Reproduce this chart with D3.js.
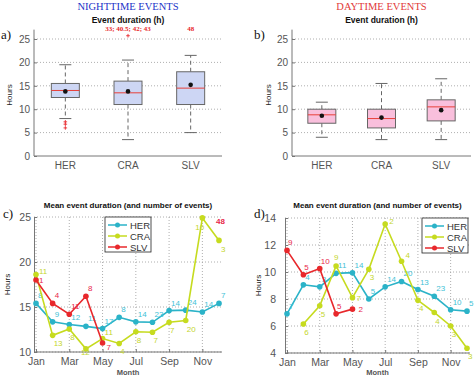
<!DOCTYPE html>
<html>
<head>
<meta charset="utf-8">
<script src="https://cdnjs.cloudflare.com/ajax/libs/d3/7.8.5/d3.min.js"></script>
<style>
  body { margin: 0; background: #fff; }
  svg { display: block; font-family: Arial, "Liberation Sans", sans-serif; }
</style>
</head>
<body>
<div id="chart"></div>
<script>
// ---- box plot data (hours) ----
var sites = ["HER", "CRA", "SLV"];

var nightQ1 = [12.5, 11, 11];
var nightMed = [14, 13.5, 14.5];
var nightQ3 = [15.5, 16, 18];
var nightMean = [13.8, 13.8, 15.2];
var nightLo = [8, 3.5, 5];
var nightHi = [19.5, 20.5, 21.5];
var nightOut = [[7.3, 6.8, 6], [25.7], []];
var nightOffText = ["", "33; 40.5; 42; 43", "48"];

var dayQ1 = [7, 6, 7.5];
var dayMed = [8.8, 8, 10.5];
var dayQ3 = [10, 10, 12];
var dayMean = [8.6, 8.2, 9.8];
var dayLo = [4, 3.5, 3.5];
var dayHi = [11.5, 15.5, 16.5];
var dayOut = [[], [], []];
var dayOffText = ["", "", ""];

var boxTicks = [0, 5, 10, 15, 20, 25];

// ---- monthly means ----
var months = ["Jan", "Feb", "Mar", "Apr", "May", "Jun", "Jul", "Aug", "Sep", "Oct", "Nov", "Dec"];
var monthTicks = ["Jan", "Mar", "May", "Jul", "Sep", "Nov"];

var herNight = [15.4, 13.35, 13.05, 12.85, 12.6, 13.85, 13.35, 13.3, 14.6, 14.65, 14.45, 15.4];
var herNightN = [8, 9, 12, 11, 17, 8, 14, 23, 14, 24, 14, 7];
var craNight = [18.6, 11.85, 12.55, 10.35, 11.5, 10.95, 12.25, 12.2, 13.3, 13.5, 24.9, 22.4];
var craNightN = [11, 13, 8, 12, 11, 4, 8, 7, 7, 20, 10, 3];
var slvNight = [18.0, 15.4, 14.2, 16.2, 11.0, null, null, null, null, null, null, null];
var slvNightN = [1, 4, 11, 8, 7, null, null, null, null, null, null, null];

var herDay = [6.9, 9.05, 8.9, 9.9, 9.95, 8.0, 8.9, 9.3, 8.7, 8.2, 7.2, 7.1];
var herDayN = [7, 4, 3, 11, 14, 5, 14, 20, 13, 23, 10, 5];
var craDay = [null, 6.15, 7.5, 10.45, 8.1, 10.2, 13.55, 10.8, 7.9, 7.0, 6.0, 4.35];
var craDayN = [null, 6, 5, 9, 7, 3, 2, 4, 4, 4, 3, 3];
var slvDay = [11.6, 9.8, 10.25, 6.9, 7.25, null, null, null, null, null, null, null];
var slvDayN = [9, 5, 10, 5, 2, null, null, null, null, null, null, null];

var colHER = "#2bb3c8", colCRA = "#c6db1f", colSLV = "#e8282c";
var txtHER = "#3fc2d6", txtCRA = "#c4d62c", txtSLV = "#e8284a";

var svg = d3.select("#chart").append("svg")
  .attr("width", 474)
  .attr("height", 377);

function gridLine(sel) {
  sel.attr("stroke", "#9a9a9a").attr("stroke-width", 0.8).attr("stroke-dasharray", "1,2");
}

// ---------- box plot panel ----------
function boxPanel(opt) {
  var x = d3.scalePoint().domain(sites).range([opt.left, opt.right]).padding(0.5);
  var y = d3.scaleLinear().domain([0, 25]).range([156, 39]);
  var g = svg.append("g");

  // grid
  g.selectAll(".grid").data(boxTicks.slice(1)).enter().append("line")
    .attr("x1", opt.left).attr("x2", opt.right)
    .attr("y1", function (d) { return y(d); }).attr("y2", function (d) { return y(d); })
    .call(gridLine);

  var ax = g.append("g").attr("transform", "translate(" + opt.left + ",0)")
    .call(d3.axisLeft(y).tickValues(boxTicks).tickSize(-3).tickPadding(4));
  ax.select(".domain").attr("d", "M0," + y(27) + "V" + y(0)).attr("stroke", "#777");
  ax.selectAll(".tick line").attr("stroke", "#777");
  ax.selectAll("text").attr("font-size", 10).attr("fill", "#555").attr("font-family", "Arial, sans-serif");

  g.append("line").attr("x1", opt.left).attr("x2", opt.right)
    .attr("y1", y(0)).attr("y2", y(0)).attr("stroke", "#777");

  g.selectAll(".xl").data(sites).enter().append("text")
    .attr("x", function (d) { return x(d); }).attr("y", 169)
    .attr("text-anchor", "middle").attr("font-size", 10).attr("fill", "#555")
    .text(function (d) { return d; });

  var w = 28;
  sites.forEach(function (s, i) {
    var cx = x(s);
    // whiskers
    [[opt.q3[i], opt.hi[i]], [opt.q1[i], opt.lo[i]]].forEach(function (p) {
      g.append("line").attr("x1", cx).attr("x2", cx)
        .attr("y1", y(p[0])).attr("y2", y(p[1]))
        .attr("stroke", "#666").attr("stroke-width", 1).attr("stroke-dasharray", "4,3");
      g.append("line").attr("x1", cx - 6).attr("x2", cx + 6)
        .attr("y1", y(p[1])).attr("y2", y(p[1]))
        .attr("stroke", "#666").attr("stroke-width", 1);
    });
    g.append("rect").attr("x", cx - w / 2).attr("width", w)
      .attr("y", y(opt.q3[i])).attr("height", y(opt.q1[i]) - y(opt.q3[i]))
      .attr("fill", opt.fill).attr("stroke", "#666").attr("stroke-width", 1);
    g.append("line").attr("x1", cx - w / 2).attr("x2", cx + w / 2)
      .attr("y1", y(opt.med[i])).attr("y2", y(opt.med[i]))
      .attr("stroke", "#e8403a").attr("stroke-width", 1);
    g.append("circle").attr("cx", cx).attr("cy", y(opt.mean[i])).attr("r", 2.3).attr("fill", "#111");
    // outliers as small red "+" marks
    opt.out[i].forEach(function (v) {
      g.append("path")
        .attr("d", "M" + (cx - 1.8) + "," + y(v) + "h3.6M" + cx + "," + (y(v) - 1.8) + "v3.6")
        .attr("stroke", "#e8282c").attr("stroke-width", 0.9).attr("fill", "none");
    });
    if (opt.offText[i]) {
      g.append("text").attr("x", cx).attr("y", 31)
        .attr("text-anchor", "middle").attr("font-size", 7)
        .attr("font-family", "'Liberation Serif', serif").attr("font-weight", "bold")
        .attr("fill", "#e8282c").text(opt.offText[i]);
    }
  });

  var mid = (opt.left + opt.right) / 2;
  svg.append("text").attr("x", mid).attr("y", 10).attr("text-anchor", "middle")
    .attr("font-family", "'Liberation Serif', 'Times New Roman', serif").attr("font-size", 10.5)
    .attr("fill", opt.headColor).text(opt.head);
  svg.append("text").attr("x", mid).attr("y", 23).attr("text-anchor", "middle")
    .attr("font-size", 8.5).attr("font-weight", "bold").attr("fill", "#111").text("Event duration (h)");
  svg.append("text").attr("x", opt.panelX).attr("y", 39)
    .attr("font-family", "'Liberation Serif', serif").attr("font-size", 13).attr("fill", "#111").text(opt.tag);
  svg.append("text").attr("transform", "translate(" + opt.hoursX + ",95) rotate(-90)")
    .attr("text-anchor", "middle").attr("font-size", 8).attr("fill", "#222").text("Hours");
}

boxPanel({
  left: 34, right: 222, fill: "#cdd6f4",
  q1: nightQ1, med: nightMed, q3: nightQ3, mean: nightMean, lo: nightLo, hi: nightHi,
  out: nightOut, offText: nightOffText,
  head: "NIGHTTIME EVENTS", headColor: "#2233c8", tag: "a)", panelX: 1, hoursX: 12
});
boxPanel({
  left: 292, right: 471, fill: "#f9bfdc",
  q1: dayQ1, med: dayMed, q3: dayQ3, mean: dayMean, lo: dayLo, hi: dayHi,
  out: dayOut, offText: dayOffText,
  head: "DAYTIME EVENTS", headColor: "#e23a3a", tag: "b)", panelX: 254, hoursX: 271
});

// ---------- monthly line panels ----------
function linePanel(opt) {
  var x = d3.scalePoint().domain(months).range([opt.left + 2, opt.right - 3]);
  var y = d3.scaleLinear().domain(opt.yDomain).range([opt.bottom, opt.top]);
  var g = svg.append("g");

  g.selectAll(".hg").data(opt.yTicks).enter().append("line")
    .attr("x1", opt.left).attr("x2", opt.right)
    .attr("y1", function (d) { return y(d); }).attr("y2", function (d) { return y(d); })
    .call(gridLine);
  g.selectAll(".vg").data(monthTicks).enter().append("line")
    .attr("x1", function (d) { return x(d); }).attr("x2", function (d) { return x(d); })
    .attr("y1", opt.top).attr("y2", opt.bottom)
    .call(gridLine);

  var ay = g.append("g").attr("transform", "translate(" + opt.left + ",0)")
    .call(d3.axisLeft(y).tickValues(opt.yTicks).tickSize(-3).tickPadding(opt.pad));
  ay.select(".domain").attr("stroke", "#777");
  ay.selectAll(".tick line").attr("stroke", "#777");
  ay.selectAll("text").attr("font-size", 10.5).attr("fill", "#555").attr("font-family", "Arial, sans-serif");

  var axx = g.append("g").attr("transform", "translate(0," + opt.bottom + ")")
    .call(d3.axisBottom(x).tickValues(monthTicks).tickSize(-3).tickPadding(6));
  axx.select(".domain").attr("d", "M" + opt.left + ",0H" + opt.right).attr("stroke", "#777");
  axx.selectAll(".tick line").attr("stroke", "#777");
  axx.selectAll("text").attr("font-size", 10.5).attr("fill", "#555").attr("font-family", "Arial, sans-serif");

  var line = d3.line()
    .defined(function (d) { return d.v != null; })
    .x(function (d) { return x(d.m); })
    .y(function (d) { return y(d.v); });

  opt.series.forEach(function (s) {
    var pts = months.map(function (m, i) { return { m: m, v: s.values[i], n: s.counts[i], i: i }; });
    var ok = pts.filter(function (d) { return d.v != null; });
    g.append("path").datum(pts).attr("d", line)
      .attr("fill", "none").attr("stroke", s.color).attr("stroke-width", 1.6);
    g.selectAll(null).data(ok).enter().append("circle")
      .attr("cx", function (d) { return x(d.m); }).attr("cy", function (d) { return y(d.v); })
      .attr("r", 2.8).attr("fill", s.color);
    g.selectAll(null).data(ok).enter().append("text")
      .attr("x", function (d) { return x(d.m) + (s.off[d.i] || s.dflt)[0]; })
      .attr("y", function (d) { return y(d.v) + (s.off[d.i] || s.dflt)[1]; })
      .attr("font-size", 8).attr("fill", s.tcolor)
      .text(function (d) { return d.n; });
  });

  // legend
  var lg = g.append("g").attr("transform", "translate(" + opt.legX + "," + opt.top + ")");
  lg.append("rect").attr("width", 46).attr("height", 35).attr("fill", "#fff")
    .attr("stroke", "#222").attr("stroke-width", 0.8);
  opt.series.forEach(function (s, i) {
    var ly = 8 + i * 11;
    lg.append("line").attr("x1", 3).attr("x2", 22).attr("y1", ly).attr("y2", ly)
      .attr("stroke", s.color).attr("stroke-width", 1.5);
    lg.append("circle").attr("cx", 12.5).attr("cy", ly).attr("r", 2.5).attr("fill", s.color);
    lg.append("text").attr("x", 25).attr("y", ly + 3.5).attr("font-size", 9.5).attr("fill", "#333").text(s.name);
  });

  var mid = (opt.left + opt.right) / 2;
  svg.append("text").attr("x", mid).attr("y", 208).attr("text-anchor", "middle")
    .attr("font-size", 8).attr("font-weight", "bold").attr("fill", "#111")
    .text("Mean event duration (and number of events)");
  svg.append("text").attr("x", opt.panelX).attr("y", 218)
    .attr("font-family", "'Liberation Serif', serif").attr("font-size", 13).attr("fill", "#111").text(opt.tag);
  svg.append("text").attr("transform", "translate(" + opt.hoursX + "," + ((opt.top + opt.bottom) / 2) + ") rotate(-90)")
    .attr("text-anchor", "middle").attr("font-size", 8).attr("fill", "#222").text("Hours");
  svg.append("text").attr("x", mid).attr("y", 375).attr("text-anchor", "middle")
    .attr("font-size", 7.5).attr("font-weight", "bold").attr("fill", "#555").text("Month");
  return { g: g, x: x, y: y };
}

var pc = linePanel({
  left: 34, right: 222, top: 217, bottom: 352, yDomain: [10, 25], yTicks: [10, 15, 20, 25], pad: 3,
  legX: 105, tag: "c)", panelX: 3, hoursX: 10,
  series: [
    { name: "HER", values: herNight, counts: herNightN, color: colHER, tcolor: txtHER, dflt: [2, -5], off: {} },
    { name: "CRA", values: craNight, counts: craNightN, color: colCRA, tcolor: txtCRA, dflt: [1, 11],
      off: { 0: [3, -1], 3: [-5, 6], 4: [2, -4], 10: [-7, 12], 11: [2, 12] } },
    { name: "SLV", values: slvNight, counts: slvNightN,
      color: colSLV, tcolor: txtSLV, dflt: [2, -5], off: { 0: [3, 3], 4: [4, 7] } }
  ]
});
pc.g.append("text").attr("x", 216).attr("y", 224).attr("font-size", 8).attr("font-weight", "bold")
  .attr("fill", txtSLV).text("48");

linePanel({
  left: 285, right: 470, top: 218, bottom: 353, yDomain: [4, 14], yTicks: [4, 6, 8, 10, 12, 14], pad: 9,
  legX: 422, tag: "d)", panelX: 254, hoursX: 261,
  series: [
    { name: "HER", values: herDay, counts: herDayN, color: colHER, tcolor: txtHER, dflt: [2, -5], off: {} },
    { name: "CRA", values: craDay, counts: craDayN, color: colCRA, tcolor: txtCRA, dflt: [1, 11],
      off: { 3: [-2, -6], 4: [4, 3], 6: [4, 0], 7: [4, -3] } },
    { name: "SLV", values: slvDay, counts: slvDayN, color: colSLV, tcolor: txtSLV, dflt: [1, -5],
      off: { 4: [6, 3] } }
  ]
});
</script>
</body>
</html>
